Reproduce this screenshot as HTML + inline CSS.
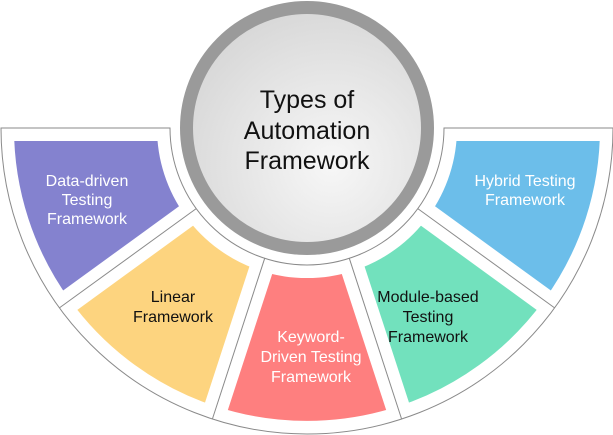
<!DOCTYPE html>
<html><head><meta charset="utf-8"><style>
html,body{margin:0;padding:0;background:#fff;}
svg{display:block;}
text{font-family:"Liberation Sans",sans-serif;}
</style></head><body>
<svg width="613" height="435" viewBox="0 0 613 435" xmlns="http://www.w3.org/2000/svg">
<defs>
<radialGradient id="g" cx="0.6" cy="0.65" r="0.7">
<stop offset="0" stop-color="#f7f7f7"/><stop offset="1" stop-color="#d6d6d6"/>
</radialGradient>
</defs>
<path d="M613,128 A306,306 0 0 1 1,128 L170,128 A137,137 0 0 0 444,128 Z" fill="#fff"/>
<path d="M600,128 A293,293 0 0 1 544,300.3 L428.4,216.2 A150,150 0 0 0 457,128 Z" fill="#6cbeea"/>
<path d="M544,300.3 A293,293 0 0 1 397.5,406.6 L353.4,270.7 A150,150 0 0 0 428.4,216.2 Z" fill="#72e1bd"/>
<path d="M397.5,406.6 A293,293 0 0 1 216.5,406.6 L260.6,270.7 A150,150 0 0 0 353.4,270.7 Z" fill="#fe7f7f"/>
<path d="M216.5,406.6 A293,293 0 0 1 70,300.3 L185.6,216.2 A150,150 0 0 0 260.6,270.7 Z" fill="#fdd47f"/>
<path d="M70,300.3 A293,293 0 0 1 14,128 L157,128 A150,150 0 0 0 185.6,216.2 Z" fill="#8482cf"/>
<g stroke="#fff" stroke-width="24">
<line x1="417.8" y1="208.6" x2="560" y2="312"/>
<line x1="349.3" y1="258.3" x2="404" y2="426"/>
<line x1="264.7" y1="258.3" x2="210" y2="426"/>
<line x1="196.2" y1="208.6" x2="54" y2="312"/>
</g>
<rect x="0" y="115" width="613" height="26" fill="#fff"/>
<g stroke="#8a8a8a" stroke-width="1" fill="none">
<path d="M613,128 A306,306 0 0 1 1,128 L170,128 A137,137 0 0 0 444,128 Z"/>
<line x1="417.8" y1="208.6" x2="554.6" y2="307.9"/>
<line x1="349.3" y1="258.3" x2="401.6" y2="419"/>
<line x1="264.7" y1="258.3" x2="212.4" y2="419"/>
<line x1="196.2" y1="208.6" x2="59.4" y2="307.9"/>
</g>
<circle cx="307" cy="128" r="120.5" fill="url(#g)" stroke="#9a9a9a" stroke-width="13"/>
<g text-anchor="middle" font-size="25" fill="#111">
<text x="307" y="108">Types of</text>
<text x="307" y="139">Automation</text>
<text x="307" y="169">Framework</text>
</g>
<g text-anchor="middle" font-size="16">
<g fill="#fff">
<text x="87" y="186">Data-driven</text>
<text x="87" y="205">Testing</text>
<text x="87" y="224">Framework</text>
<text x="525" y="186">Hybrid Testing</text>
<text x="525" y="205">Framework</text>
<text x="311" y="342">Keyword-</text>
<text x="311" y="362">Driven Testing</text>
<text x="311" y="382">Framework</text>
</g>
<g fill="#111">
<text x="173" y="302">Linear</text>
<text x="173" y="322">Framework</text>
<text x="428" y="302">Module-based</text>
<text x="428" y="322">Testing</text>
<text x="428" y="342">Framework</text>
</g>
</g>
</svg>
</body></html>
